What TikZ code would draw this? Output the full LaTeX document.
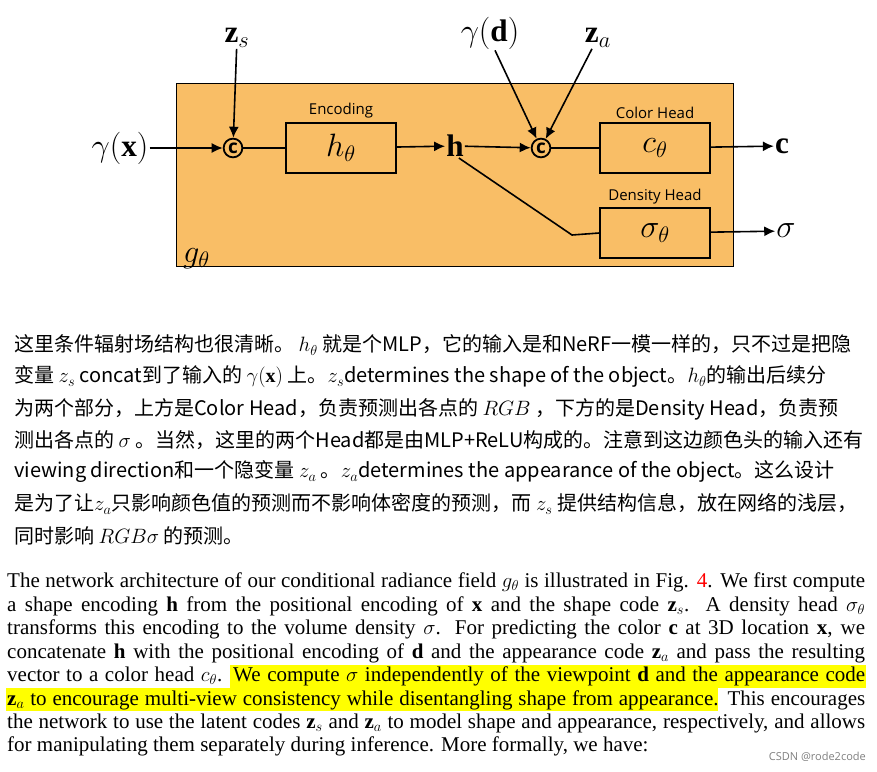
\documentclass[tikz,border=0pt]{standalone}
\usepackage{amsmath}
\usepackage{graphicx}
\usepackage{fontspec}
\setmainfont{Liberation Serif}
\setsansfont{Open Sans}
\newfontfamily\cjk{Noto Sans CJK SC}
\definecolor{boxorange}{RGB}{249,190,102}
\definecolor{hl}{RGB}{255,255,0}
\usetikzlibrary{arrows.meta}
\newcommand{\bigmath}[1]{\scalebox{1.3}{$#1$}}
\tikzset{
  lab/.style={font=\fontsize{24}{28}\selectfont, inner sep=1pt},
  blk/.style={draw, line width=1.5pt, fill=boxorange, minimum width=110pt, minimum height=50pt, font=\fontsize{24}{28}\selectfont},
  blkcap/.style={font=\sffamily\fontsize{15}{17}\selectfont, inner sep=1pt},
  cat/.style={circle, draw, line width=1.8pt, inner sep=1.5pt, font=\sffamily\bfseries\fontsize{19}{20}\selectfont},
  arr/.style={-{Latex[length=11pt,width=10pt]}, line width=1.6pt},
  ln/.style={line width=1.6pt},
  cn/.style={anchor=west, inner sep=0pt, font=\cjk\fontsize{20}{22}\selectfont},
  en/.style={anchor=west, inner sep=0pt, font=\fontsize{21}{23}\selectfont},
}
\begin{document}
\begin{tikzpicture}[x=1pt,y=-1pt]
\useasboundingbox[fill=white] (0,0) rectangle (877,771);
% diagram
\node[draw, line width=1.3pt, fill=boxorange, minimum width=557pt, minimum height=183pt, anchor=north west] (g) at (176,83) {};
\node[lab, anchor=south west] (gt) at (182,270) {\bigmath{g_\theta}};
\node[lab] (gx) at (120,148) {\bigmath{\gamma(\mathbf{x})}};
\node[cat] (c1) at (233,148) {c};
\node[lab] (zs) at (237,38) {\bigmath{\mathbf{z}_s}};
\node[blk] (hb) at (341,148) {\bigmath{h_\theta}};
\node[blkcap, anchor=south] (enc) at (341,119) {Encoding};
\node[lab] (h) at (455,146) {\bigmath{\mathbf{h}}};
\node[cat] (c2) at (541,148) {c};
\node[lab] (gd) at (490,33) {\bigmath{\gamma(\mathbf{d})}};
\node[lab] (za) at (598,38) {\bigmath{\mathbf{z}_a}};
\node[blk] (cb) at (655,148) {\bigmath{c_\theta}};
\node[blkcap, anchor=south] (ch) at (655,120) {Color Head};
\node[blk] (sb) at (655,233) {\bigmath{\sigma_\theta}};
\node[blkcap, anchor=south] (dh) at (655,205) {Density Head};
\node[lab] (c) at (782,146) {\bigmath{\mathbf{c}}};
\node[lab] (s) at (786,231) {\bigmath{\sigma}};
\coordinate (bend) at (572,235);
\draw[arr] (gx) -- (c1);
\draw[arr] (zs) -- (c1);
\draw[ln] (c1) -- (hb);
\draw[arr] (hb) -- (h);
\draw[arr] (h) -- (c2);
\draw[arr] (gd.south) ++(5,0) -- (c2);
\draw[arr] (za.south) ++(-6,0) -- (c2);
\draw[ln] (c2) -- (cb);
\draw[arr] (cb) -- (c);
\draw[arr] (sb) -- (s);
\draw[ln] (h.south east) ++(-6,0) -- (bend) -- (sb.west);
% Chinese paragraph
\node[cn] (l1) at (14,345) {这里条件辐射场结构也很清晰。 $h_\theta$ 就是个MLP，它的输入是和NeRF一模一样的，只不过是把隐};
\node[cn] (l2) at (14,377) {变量 $z_s$ concat到了输入的 $\gamma(\mathbf{x})$ 上。$z_s$determines the shape of the object。$h_\theta$的输出后续分};
\node[cn] (l3) at (14,409) {为两个部分，上方是Color Head，负责预测出各点的 $RGB$ ，下方的是Density Head，负责预};
\node[cn] (l4) at (14,440) {测出各点的 $\sigma$ 。当然，这里的两个Head都是由MLP+ReLU构成的。注意到这边颜色头的输入还有};
\node[cn] (l5) at (14,472) {viewing direction和一个隐变量 $z_a$ 。$z_a$determines the appearance of the object。这么设计};
\node[cn] (l6) at (14,504) {是为了让$z_a$只影响颜色值的预测而不影响体密度的预测，而 $z_s$ 提供结构信息，放在网络的浅层，};
\node[cn] (l7) at (14,536) {同时影响 $RGB\sigma$ 的预测。};
% highlights
\fill[hl] (230,665) rectangle (866,688);
\fill[hl] (6,688) rectangle (718,711);
% English paragraph
\node[en] (e1) at (7,582) {\makebox[858pt][s]{The network architecture of our conditional radiance field $g_\theta$ is illustrated in Fig. \textcolor{red}{4}. We first compute}};
\node[en] (e2) at (7,606) {\makebox[858pt][s]{a shape encoding $\mathbf{h}$ from the positional encoding of $\mathbf{x}$ and the shape code $\mathbf{z}_s$. A density head $\sigma_\theta$}};
\node[en] (e3) at (7,629) {\makebox[858pt][s]{transforms this encoding to the volume density $\sigma$. For predicting the color $\mathbf{c}$ at 3D location $\mathbf{x}$, we}};
\node[en] (e4) at (7,653) {\makebox[858pt][s]{concatenate $\mathbf{h}$ with the positional encoding of $\mathbf{d}$ and the appearance code $\mathbf{z}_a$ and pass the resulting}};
\node[en] (e5) at (7,676) {\makebox[858pt][s]{vector to a color head $c_\theta$. We compute $\sigma$ independently of the viewpoint $\mathbf{d}$ and the appearance code}};
\node[en] (e6) at (7,700) {\makebox[858pt][s]{$\mathbf{z}_a$ to encourage multi-view consistency while disentangling shape from appearance. This encourages}};
\node[en] (e7) at (7,723) {\makebox[858pt][s]{the network to use the latent codes $\mathbf{z}_s$ and $\mathbf{z}_a$ to model shape and appearance, respectively, and allows}};
\node[en] (e8) at (7,746) {for manipulating them separately during inference. More formally, we have:};
\node[anchor=east, inner sep=0pt, text=gray, font=\sffamily\fontsize{11}{12}\selectfont] (wm) at (866,757) {CSDN @rode2code};
\end{tikzpicture}
\end{document}
